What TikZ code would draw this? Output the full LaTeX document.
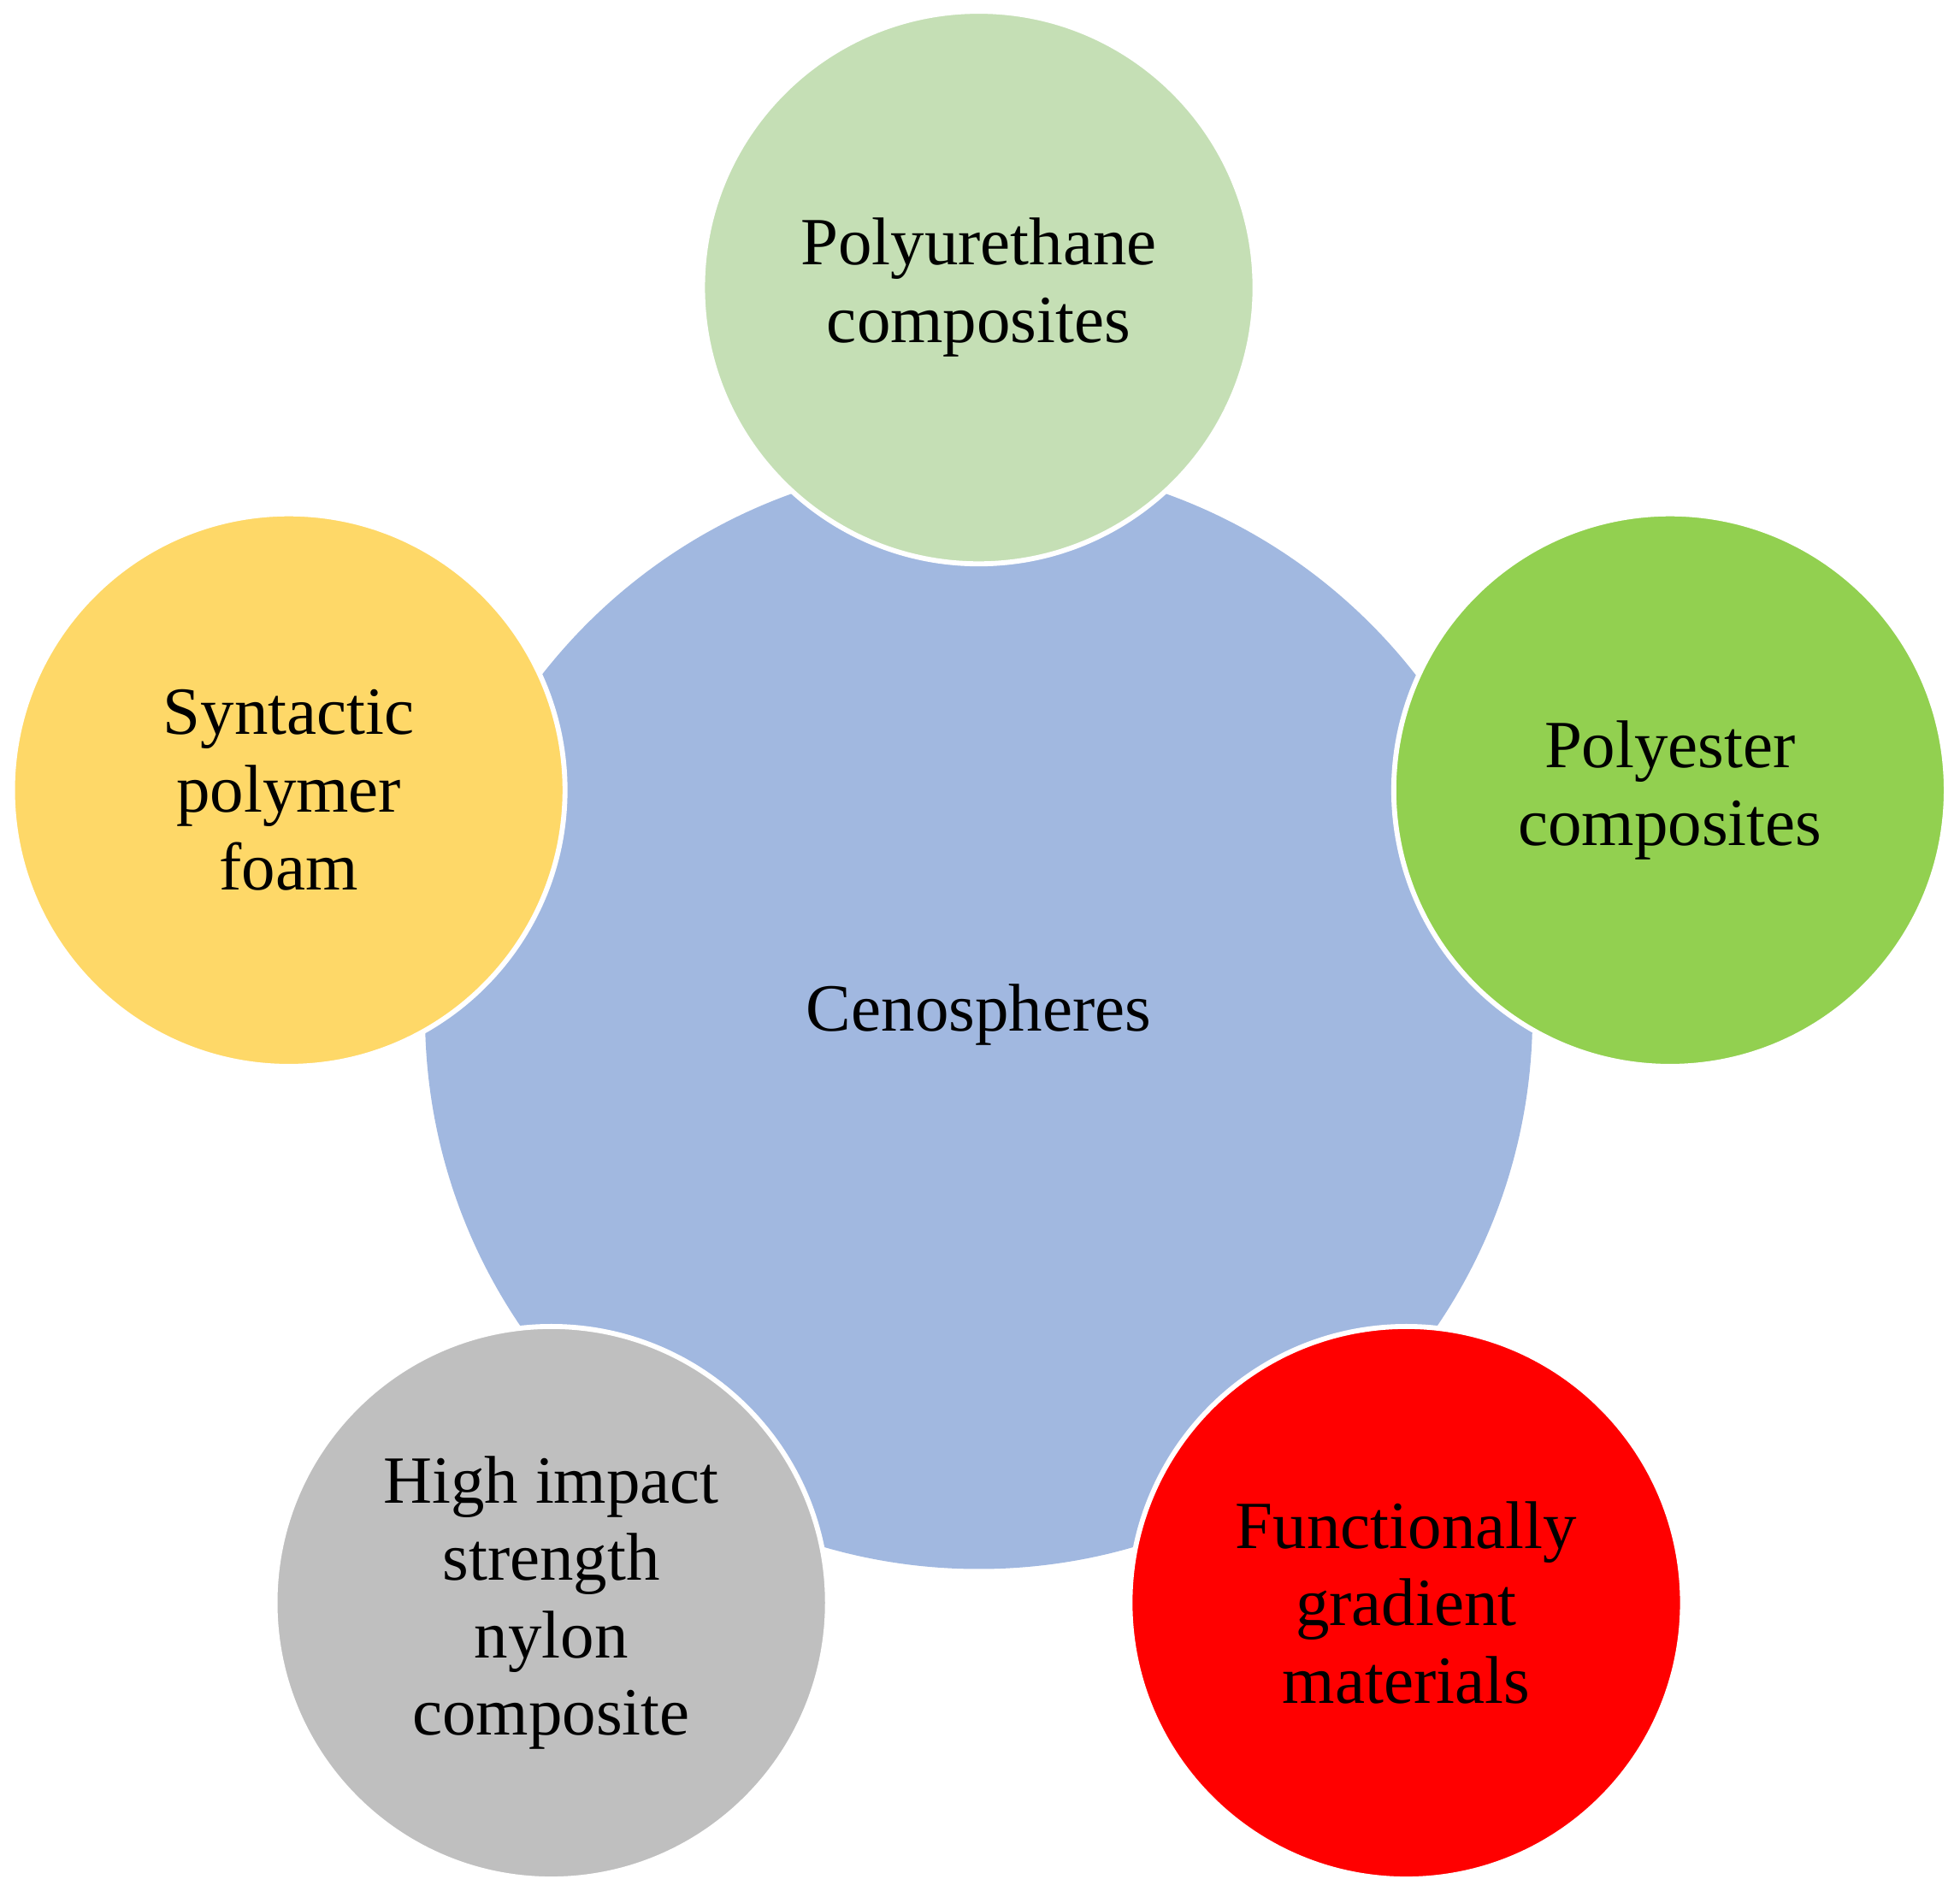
\documentclass[tikz,border=0pt]{standalone}
\usepackage{fontspec}
\setmainfont{Liberation Serif}
\begin{document}
\begin{tikzpicture}[x=1pt,y=-1pt,
  big/.style={circle,fill=cenoblue,minimum size=886pt,inner sep=0pt},
  small/.style={circle,draw=white,line width=4pt,minimum size=442pt,inner sep=0pt,align=center,font=\fontsize{54}{62}\selectfont}]
\definecolor{cenoblue}{HTML}{A1B8E0}
\definecolor{pugreen}{HTML}{C5DFB5}
\definecolor{pegreen}{HTML}{92D050}
\definecolor{synyel}{HTML}{FED868}
\definecolor{hgray}{HTML}{BFBFBF}
\useasboundingbox (0,0) rectangle (1568,1517);
\node[big,font=\fontsize{54}{62}\selectfont] (c) at (783,812) {Cenospheres};
\node[small,fill=pugreen] (a) at (783,230) {Polyurethane\\composites};
\node[small,fill=pegreen] (b) at (1336,632) {Polyester\\composites};
\node[small,fill=synyel] (e) at (231,632) {Syntactic\\polymer\\foam};
\node[small,fill=hgray] (d) at (441,1282) {High impact\\strength\\nylon\\composite};
\node[small,fill=red] (f) at (1125,1282) {Functionally\\gradient\\materials};
\end{tikzpicture}
\end{document}
